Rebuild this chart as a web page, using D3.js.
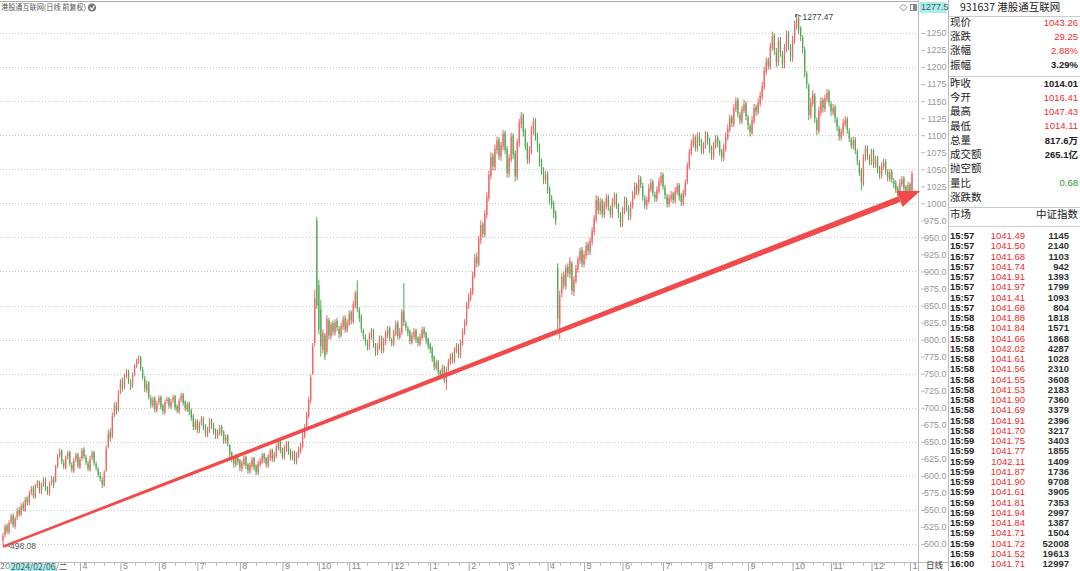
<!DOCTYPE html>
<html><head><meta charset="utf-8">
<script src="https://cdn.jsdelivr.net/npm/d3@7"></script>
<style>
html,body{margin:0;padding:0;background:#fff;}
svg{display:block;}
text{font-family:"Liberation Sans","Noto Sans CJK SC",sans-serif;}
.cjk{font-family:"Noto Sans CJK SC","Liberation Sans",sans-serif;}
</style></head><body>
<svg id="c" width="1080" height="571"></svg>
<script>
// ---------- daily OHLC (index 0 = 2024/02/06) ----------
const open = [
505,514,527,517,533,542,526,539,550,543,
558,550,567,560,576,582,569,586,591,576,
588,595,580,574,590,597,592,615,630,637,
619,612,628,635,616,607,624,632,613,626,
639,627,618,609,627,635,617,610,600,594,
586,608,644,664,658,690,704,697,724,740,
731,747,754,738,733,750,762,770,774,756,
743,726,737,714,703,714,696,708,716,703,
693,710,714,701,711,717,702,694,712,720,
709,697,707,696,688,670,681,666,678,685,
673,660,666,682,676,668,657,662,673,665,
650,659,645,634,627,616,630,623,610,617,
628,617,606,614,626,615,604,616,620,632,
626,615,626,638,623,629,640,652,640,627,
639,649,638,626,635,620,629,637,643,658,
670,688,710,750,795,975,880,845,785,806,
782,828,804,824,810,828,816,806,818,832,
813,823,840,826,850,870,843,834,813,804,
796,788,803,814,791,780,788,803,783,796,
806,817,800,793,808,825,803,810,842,824,
816,812,796,804,814,802,793,802,816,810,
801,793,788,774,758,768,754,746,760,738,
757,766,778,768,783,792,776,794,810,823,
848,860,868,893,922,910,945,970,953,983,
1008,1040,1070,1053,1078,1094,1068,1083,1104,1080,
1043,1064,1100,1074,1038,1088,1116,1130,1107,1086,
1063,1076,1106,1122,1100,1084,1062,1050,1033,1044,
1022,1007,1000,987,905,822,868,895,878,907,
896,912,870,886,903,916,932,910,923,940,
928,943,958,976,1007,988,1004,983,996,1010,
993,983,1000,1012,996,983,970,988,1006,993,
980,996,1010,1027,1016,1037,1026,1008,996,1003,
1020,1032,1013,1006,1018,1030,1042,1023,1010,998,
1006,1014,1003,1016,1027,1012,1000,1013,1032,1053,
1073,1086,1097,1080,1100,1092,1076,1083,1102,1094,
1082,1068,1083,1097,1090,1077,1066,1080,1096,1108,
1127,1116,1138,1152,1130,1120,1136,1147,1126,1113,
1103,1120,1142,1133,1146,1156,1170,1193,1210,1200,
1228,1247,1223,1206,1240,1220,1203,1226,1250,1230,
1213,1238,1260,1272,1257,1243,1226,1190,1172,1128,
1146,1158,1122,1106,1133,1152,1138,1153,1164,1146,
1133,1142,1123,1110,1096,1103,1116,1124,1106,1093,
1083,1094,1076,1060,1048,1028,1066,1082,1068,1060,
1077,1056,1067,1052,1040,1053,1062,1046,1036,1047,
1033,1030,1022,1013,1028,1037,1024,1016,1028,1016.41];
const high = [
516,529,530,535,544,545,540,553,554,560,
562,569,570,578,585,586,588,594,593,590,
598,597,585,592,600,599,616,632,640,639,
624,630,637,637,620,626,634,634,628,641,
642,631,622,629,637,637,621,613,606,598,
609,645,668,670,693,708,709,726,742,744,
750,757,756,742,752,764,772,777,776,760,
747,740,739,718,716,717,710,718,718,706,
712,716,716,713,719,719,705,714,722,722,
711,709,709,699,691,684,683,680,688,687,
676,672,685,684,678,670,668,675,675,667,
661,661,647,636,629,632,632,625,623,630,
630,619,620,628,628,617,622,626,634,634,
628,632,640,640,635,646,654,654,642,645,
651,651,640,637,637,635,643,649,664,676,
694,716,749,795,873,980,888,858,815,810,
836,832,826,828,830,832,820,825,835,836,
830,843,843,857,872,887,848,838,816,808,
800,810,817,816,795,795,806,806,803,813,
820,820,803,815,828,828,817,845,883,828,
820,815,811,817,816,805,809,819,819,812,
803,796,790,777,771,770,756,763,762,760,
772,780,781,789,795,794,800,816,830,855,
868,876,900,926,928,953,975,973,990,1016,
1048,1075,1074,1086,1098,1097,1090,1108,1107,1084,
1072,1104,1103,1078,1095,1124,1134,1132,1110,1090,
1084,1114,1126,1125,1104,1088,1066,1053,1048,1047,
1025,1012,1004,990,912,872,898,900,910,912,
921,915,893,910,922,935,936,930,943,944,
950,965,983,1012,1011,1008,1007,1003,1014,1013,
997,1008,1016,1015,1000,987,995,1010,1009,997,
1003,1018,1031,1030,1042,1040,1030,1012,1010,1028,
1036,1035,1017,1025,1038,1046,1045,1027,1014,1013,
1018,1017,1024,1030,1030,1015,1020,1035,1060,1080,
1094,1102,1100,1104,1104,1095,1090,1106,1105,1097,
1085,1090,1100,1100,1093,1080,1088,1104,1116,1130,
1130,1146,1156,1155,1134,1143,1152,1150,1130,1117,
1128,1146,1145,1154,1164,1178,1200,1214,1214,1236,
1252,1250,1228,1244,1244,1224,1234,1254,1253,1234,
1246,1268,1277.47,1275,1260,1247,1230,1194,1176,1155,
1166,1162,1126,1142,1156,1155,1160,1168,1167,1150,
1146,1145,1127,1114,1110,1124,1128,1127,1110,1097,
1098,1097,1080,1064,1052,1072,1085,1085,1072,1080,
1080,1070,1070,1055,1060,1066,1065,1050,1050,1050,
1037,1034,1026,1036,1040,1040,1027,1032,1031,1047.43];
const low = [
498.08,510,515,514,529,524,522,535,540,541,
548,547,556,557,572,567,566,582,574,573,
584,578,572,571,586,582,590,611,626,617,
610,609,624,614,605,604,620,611,610,622,
625,616,607,606,623,615,608,598,592,582,
584,606,640,650,655,686,690,694,720,724,
727,743,735,726,729,746,758,764,754,741,
723,722,712,700,700,693,693,704,697,690,
690,706,699,698,707,696,692,691,708,703,
695,694,689,681,667,667,663,663,674,667,
657,657,663,669,661,654,654,659,658,647,
647,643,627,620,612,613,616,607,606,614,
610,603,603,611,608,601,601,613,617,619,
612,612,622,620,620,626,637,633,624,624,
635,631,623,623,617,617,626,633,640,655,
666,684,706,748,790,845,808,775,780,770,
778,800,800,806,806,812,802,803,814,810,
810,820,822,823,846,840,826,810,800,792,
784,785,800,788,776,777,785,780,780,792,
802,798,790,790,805,800,800,807,820,813,
805,793,793,800,795,790,790,799,803,794,
786,780,767,755,755,747,742,743,736,726,
754,763,765,765,780,773,773,791,807,820,
845,856,865,890,906,907,940,950,950,978,
1003,1035,1048,1048,1072,1064,1062,1078,1072,1038,
1038,1060,1065,1032,1034,1083,1110,1098,1078,1058,
1058,1072,1100,1092,1076,1054,1042,1028,1028,1014,
998,992,978,968,815,800,862,874,873,892,
890,866,864,882,898,911,906,906,918,924,
924,938,953,972,984,983,979,978,991,989,
979,978,995,992,978,965,965,984,988,975,
976,992,1006,1012,1012,1022,1004,992,991,1000,
1016,1010,1002,1002,1014,1026,1020,1006,994,994,
1002,1000,1000,1012,1004,996,996,1010,1028,1050,
1070,1082,1076,1076,1084,1072,1072,1080,1086,1074,
1064,1064,1080,1082,1070,1062,1062,1076,1092,1104,
1112,1112,1134,1126,1116,1116,1132,1122,1108,1098,
1100,1116,1128,1130,1142,1152,1166,1188,1196,1196,
1224,1218,1200,1202,1215,1198,1198,1222,1225,1208,
1208,1234,1255,1248,1238,1220,1185,1168,1122,1124,
1142,1118,1100,1102,1128,1133,1134,1149,1142,1128,
1129,1118,1106,1092,1092,1099,1112,1102,1090,1080,
1079,1072,1056,1040,1019,1025,1062,1064,1056,1056,
1052,1052,1044,1036,1036,1049,1042,1032,1032,1030,
1022,1015,1010,1010,1024,1016,1012,1013,1010,1014.11];
const close = [
512,525,519,531,540,528,537,548,544,556,
552,565,561,574,580,571,584,589,578,586,
593,582,576,588,595,586,612,628,635,621,
614,626,633,618,609,622,630,615,624,637,
629,620,611,625,633,619,612,602,596,588,
605,640,662,655,688,702,695,721,738,729,
745,752,740,731,748,760,768,772,758,745,
728,735,716,705,712,698,706,714,701,695,
708,712,703,709,715,700,696,710,718,707,
699,705,694,686,672,679,668,676,683,671,
662,668,680,674,666,659,664,671,663,652,
657,648,632,625,618,628,621,612,619,626,
615,608,616,624,613,606,618,622,630,624,
617,628,636,625,631,642,650,638,629,641,
647,636,628,633,622,631,639,645,660,672,
690,712,745,790,860,850,815,790,810,776,
830,806,822,812,826,818,808,820,830,815,
825,838,828,852,868,845,832,815,806,798,
790,805,812,793,782,790,801,785,798,808,
815,802,795,810,823,805,812,840,826,818,
810,798,806,812,800,795,804,814,808,799,
791,786,772,760,766,752,748,758,741,755,
768,776,770,785,790,778,796,812,825,850,
862,870,895,920,912,948,968,955,985,1010,
1042,1068,1055,1080,1092,1070,1085,1102,1078,1045,
1066,1098,1072,1040,1090,1118,1128,1105,1084,1065,
1078,1108,1120,1098,1082,1060,1048,1035,1042,1020,
1005,998,985,975,830,865,892,880,905,898,
915,872,888,905,918,930,912,925,938,930,
945,960,978,1005,990,1002,985,998,1008,995,
985,1002,1010,998,985,972,990,1004,995,982,
998,1012,1025,1018,1035,1028,1010,998,1005,1022,
1030,1015,1008,1020,1032,1040,1025,1012,1000,1008,
1012,1005,1018,1025,1010,1002,1015,1030,1055,1075,
1088,1095,1082,1098,1090,1078,1085,1100,1092,1080,
1070,1085,1095,1088,1075,1068,1082,1098,1110,1125,
1118,1140,1150,1132,1122,1138,1145,1128,1115,1105,
1122,1140,1135,1148,1158,1172,1195,1208,1202,1230,
1245,1225,1208,1238,1222,1205,1228,1248,1232,1215,
1240,1262,1270,1255,1245,1228,1192,1175,1130,1148,
1160,1125,1108,1135,1150,1140,1155,1162,1148,1135,
1140,1125,1112,1098,1105,1118,1122,1108,1095,1085,
1092,1078,1062,1045,1030,1068,1080,1070,1062,1075,
1058,1065,1050,1042,1055,1060,1048,1038,1045,1035,
1028,1020,1015,1030,1035,1022,1018,1026,1014.01,1043.26];

// ---------- axes ----------
const yTickValues = [500,525,550,575,600,625,650,675,700,725,750,775,800,825,850,875,900,925,950,975,1000,1025,1050,1075,1100,1125,1150,1175,1200,1225,1250];
const yTickLabels = ["500.0","525.0","550.0","575.0","600.0","625.0","650.0","675.0","700.0","725.0","750.0","775.0","800.0","825.0","850.0","875.0","900.0","925.0","950.0","975.0","1000","1025","1050","1075","1100","1125","1150","1175","1200","1225","1250"];
const gridValues = [500,550,600,650,700,750,800,850,900,950,1000,1050,1100,1150,1200,1250];
const axisTopLabel = "1277.5";
const monthTickIndex = [38,58,77,96,117,138,156,171,192,211,230,249,269,287,306,326,347,368,390,409,429,448];
const monthTickLabels = ["4","5","6","7","8","9","10","11","12","1","2","3","4","5","6","7","8","9","10","11","12","1"];
const firstDateLabel = "2024/02/06/二";
const chartTitle = "港股通互联网(日线 前复权)";
const trendFrom = {i: 0, p: 496};
const trendTo = {i: 453, p: 1018};

// ---------- quote panel ----------
const panelTitle = "931637 港股通互联网";
const quoteLabels = ["现价","涨跌","涨幅","振幅","昨收","今开","最高","最低","总量","成交额","抛空额","量比","涨跌数"];
const quoteValues = ["1043.26","29.25","2.88%","3.29%","1014.01","1016.41","1047.43","1014.11","817.6万","265.1亿","","0.68",""];
const quoteTone = ["up","up","up","flat","flat","up","up","up","flat","flat","flat","down","flat"];
const tradeTimes = ["15:57","15:57","15:57","15:57","15:57","15:57","15:57","15:57",
"15:58","15:58","15:58","15:58","15:58","15:58","15:58","15:58","15:58","15:58","15:58","15:58",
"15:59","15:59","15:59","15:59","15:59","15:59","15:59","15:59","15:59","15:59","15:59","15:59","16:00"];
const tradePrices = ["1041.49","1041.50","1041.68","1041.74","1041.91","1041.97","1041.41","1041.68",
"1041.88","1041.84","1041.66","1042.02","1041.61","1041.56","1041.55","1041.53","1041.90","1041.69","1041.91","1041.70",
"1041.75","1041.77","1042.11","1041.87","1041.90","1041.61","1041.81","1041.94","1041.84","1041.71","1041.72","1041.52","1041.71"];
const tradeVolumes = [1145,2140,1103,942,1393,1799,1093,804,1818,1571,1868,4287,1028,2310,3608,2183,7360,3379,2396,3217,3403,1855,1409,1736,9708,3905,7353,2997,1387,1504,52008,19613,12997];

// ---------- drawing ----------
const UP = "#f26464", DOWN = "#52a852", RED = "#f02c2c", GREEN = "#1f9a1f";
const svg = d3.select("#c");
const N = close.length;
const xs = d3.scaleLinear().domain([0, N - 1]).range([3, 912]);
const ys = d3.scaleLinear().domain([500, 1250]).range([544, 33]);

// frame lines
svg.append("line").attr("x1",0).attr("x2",919).attr("y1",1.5).attr("y2",1.5).attr("stroke","#aaa");
svg.append("line").attr("x1",918.5).attr("x2",918.5).attr("y1",0).attr("y2",571).attr("stroke","#bbb");
svg.append("line").attr("x1",948.5).attr("x2",948.5).attr("y1",0).attr("y2",571).attr("stroke","#bbb");
svg.append("line").attr("x1",0).attr("x2",948).attr("y1",562.5).attr("y2",562.5).attr("stroke","#bbb");

// gridlines
svg.append("g").selectAll("line").data(gridValues).join("line")
  .attr("x1",0).attr("x2",917).attr("y1",d=>Math.round(ys(d))+0.5).attr("y2",d=>Math.round(ys(d))+0.5)
  .attr("stroke","#c8c8c8").attr("stroke-dasharray","1,2");

// right axis
const yAxis = d3.axisRight(ys).tickValues(yTickValues).tickFormat((d,i)=>yTickLabels[i]).tickSize(4).tickSizeOuter(0);
const ya = svg.append("g").attr("transform","translate(919,0)").call(yAxis);
ya.select(".domain").remove();
ya.selectAll(".tick line").attr("stroke","#bbb").attr("x1",2).attr("x2",6);
ya.selectAll(".tick text").attr("x",27.5).attr("text-anchor","end").attr("fill","#999")
  .style("font-size","9px").style("font-family","Liberation Sans");

// top axis value box
svg.append("rect").attr("x",919.5).attr("y",2).attr("width",27).attr("height",11).attr("fill","#a8f0f0");
svg.append("text").attr("x",921).attr("y",8).attr("dominant-baseline","middle").attr("fill","#555")
  .style("font-size","9px").text(axisTopLabel);

// bottom axis
const xAxis = d3.axisBottom(xs).tickValues(monthTickIndex).tickFormat((d,i)=>monthTickLabels[i]).tickSize(8).tickSizeOuter(0);
const xa = svg.append("g").attr("transform","translate(0,563)").call(xAxis);
xa.select(".domain").remove();
xa.selectAll(".tick line").attr("stroke","#aaa");
xa.selectAll(".tick text").attr("x",2).attr("y",4).attr("dy",null).attr("dominant-baseline","middle")
  .attr("text-anchor","start").attr("fill","#888").style("font-size","9px").style("font-family","Liberation Sans");
svg.append("g").selectAll("line").data(d3.range(0, N, 5)).join("line")
  .attr("x1",d=>Math.round(xs(d))+0.5).attr("x2",d=>Math.round(xs(d))+0.5).attr("y1",563).attr("y2",565.5).attr("stroke","#bbb");
svg.append("text").attr("x",0).attr("y",567).attr("dominant-baseline","middle").attr("fill","#888")
  .style("font-size","9px").text("20");
svg.append("rect").attr("x",10).attr("y",563).attr("width",46).attr("height",8).attr("fill","#a8f0f0");
svg.append("text").attr("x",11).attr("y",567.5).attr("dominant-baseline","middle").attr("fill","#555")
  .attr("class","cjk").style("font-size","8.5px").text(firstDateLabel);
svg.append("text").attr("x",926).attr("y",566).attr("dominant-baseline","middle").attr("fill","#333")
  .attr("class","cjk").style("font-size","8.5px").text("日线");

// title
svg.append("text").attr("x",1).attr("y",7.5).attr("dominant-baseline","middle").attr("fill","#555")
  .attr("class","cjk").style("font-size","7.5px").attr("textLength",85).attr("lengthAdjust","spacingAndGlyphs").text(chartTitle);
svg.append("circle").attr("cx",92).attr("cy",7.5).attr("r",4).attr("fill","#777");
svg.append("path").attr("d","M90,7.5 L92,9.5 L94.5,5.5").attr("stroke","#fff").attr("stroke-width",1.2).attr("fill","none");
svg.append("path").attr("d","M903.5,4 L907,7.5 L903.5,11 L900,7.5 Z").attr("stroke","#888").attr("fill","none");
svg.append("rect").attr("x",910.5).attr("y",4.5).attr("width",6).attr("height",6).attr("stroke","#888").attr("fill","none");
svg.append("rect").attr("x",913).attr("y",5).attr("width",3).attr("height",5).attr("fill","#888");

// candles
const idx = d3.range(N);
const col = i => close[i] >= open[i] ? UP : DOWN;
const cg = svg.append("g");
cg.selectAll("rect.w").data(idx).join("rect").attr("class","w")
  .attr("x",i=>xs(i)-0.5).attr("width",1)
  .attr("y",i=>ys(high[i])).attr("height",i=>Math.max(1, ys(low[i])-ys(high[i])))
  .attr("fill",col);
cg.selectAll("rect.b").data(idx).join("rect").attr("class","b")
  .attr("x",i=>xs(i)-0.6).attr("width",1.2)
  .attr("y",i=>ys(Math.max(open[i],close[i]))).attr("height",i=>Math.max(1, Math.abs(ys(open[i])-ys(close[i]))))
  .attr("fill",col);

// max / min markers
const iMax = d3.maxIndex(high), iMin = d3.minIndex(low);
const hx = xs(iMax), hy = ys(high[iMax]);
svg.append("path").attr("d",`M${hx-1},${hy+3} L${hx-1},${hy} L${hx+5},${hy+2}`).attr("stroke","#666").attr("fill","none");
svg.append("text").attr("x",hx+6).attr("y",hy+3).attr("dominant-baseline","middle").attr("fill","#444")
  .style("font-size","8.5px").text(d3.format(".2f")(high[iMax]));
const lx = xs(iMin), ly = ys(low[iMin]);
svg.append("path").attr("d",`M${lx},${ly} L${lx+7},${ly+1}`).attr("stroke","#666").attr("fill","none");
svg.append("text").attr("x",lx+7).attr("y",ly+1.5).attr("dominant-baseline","middle").attr("fill","#555")
  .style("font-size","8.5px").text(d3.format(".2f")(low[iMin]));

// trend arrow
(function(){
  const S = [xs(trendFrom.i), ys(trendFrom.p)], E = [xs(trendTo.i), ys(trendTo.p)];
  const dx = E[0]-S[0], dy = E[1]-S[1], L = Math.hypot(dx,dy);
  const u = [dx/L, dy/L], n = [-u[1], u[0]];
  const headLen = 22, headHalf = 8.5, w0 = 1.2, w1 = 2.9;
  const B = [E[0]-headLen*u[0], E[1]-headLen*u[1]];
  const p = (P,k)=>[P[0]+k*n[0], P[1]+k*n[1]];
  const shaft = [p(S,w0), p(B,w1), p(B,-w1), p(S,-w0)];
  const head = [E, p(B,headHalf), p(B,-headHalf)];
  svg.append("path").attr("d", d3.line()(shaft)+"Z").attr("fill","#f24a4a");
  svg.append("path").attr("d", d3.line()(head)+"Z").attr("fill","#f24a4a");
})();

// ---------- quote panel ----------
const px0 = 950, px1 = 1078;
svg.append("text").attr("x",960).attr("y",8.5).attr("dominant-baseline","middle").attr("fill","#222")
  .attr("class","cjk").style("font-size","10.5px").text(panelTitle);
[16,76,207,226].forEach(y=>{
  svg.append("line").attr("x1",949).attr("x2",1080).attr("y1",y+0.5).attr("y2",y+0.5).attr("stroke","#ccc");
});
const qy = i => i < 4 ? 23 + i*14.3 : 84 + (i-4)*14.25;
const toneColor = t => t === "up" ? RED : (t === "down" ? GREEN : "#222");
const qg = svg.append("g");
qg.selectAll("text.ql").data(quoteLabels).join("text").attr("class","ql cjk")
  .attr("x",px0).attr("y",(d,i)=>qy(i)).attr("dominant-baseline","middle").attr("fill","#222")
  .style("font-size","10.5px").text(d=>d);
qg.selectAll("text.qv").data(quoteValues).join("text").attr("class","qv")
  .attr("x",px1).attr("y",(d,i)=>qy(i)).attr("dominant-baseline","middle").attr("text-anchor","end")
  .attr("fill",(d,i)=>toneColor(quoteTone[i])).style("font-size","9.5px")
  .style("font-weight",(d,i)=>quoteTone[i]==="flat"?"bold":"normal").text(d=>d);
svg.append("text").attr("x",px0).attr("y",215).attr("dominant-baseline","middle").attr("fill","#222")
  .attr("class","cjk").style("font-size","10.5px").text("市场");
svg.append("text").attr("x",px1).attr("y",215).attr("dominant-baseline","middle").attr("text-anchor","end").attr("fill","#222")
  .attr("class","cjk").style("font-size","10.5px").text("中证指数");

const ty = i => 236.5 + i*10.25;
const tg = svg.append("g");
tg.selectAll("text.tt").data(tradeTimes).join("text").attr("class","tt")
  .attr("x",px0).attr("y",(d,i)=>ty(i)).attr("dominant-baseline","middle").attr("fill","#222")
  .style("font-size","9.5px").style("font-weight","bold").text(d=>d);
tg.selectAll("text.tp").data(tradePrices).join("text").attr("class","tp")
  .attr("x",1025).attr("y",(d,i)=>ty(i)).attr("dominant-baseline","middle").attr("text-anchor","end")
  .attr("fill",RED).style("font-size","9.5px").text(d=>d);
tg.selectAll("text.tv").data(tradeVolumes).join("text").attr("class","tv")
  .attr("x",1069).attr("y",(d,i)=>ty(i)).attr("dominant-baseline","middle").attr("text-anchor","end")
  .attr("fill","#333").style("font-size","9.5px").style("font-weight","bold").text(d=>d);
</script>
</body></html>
